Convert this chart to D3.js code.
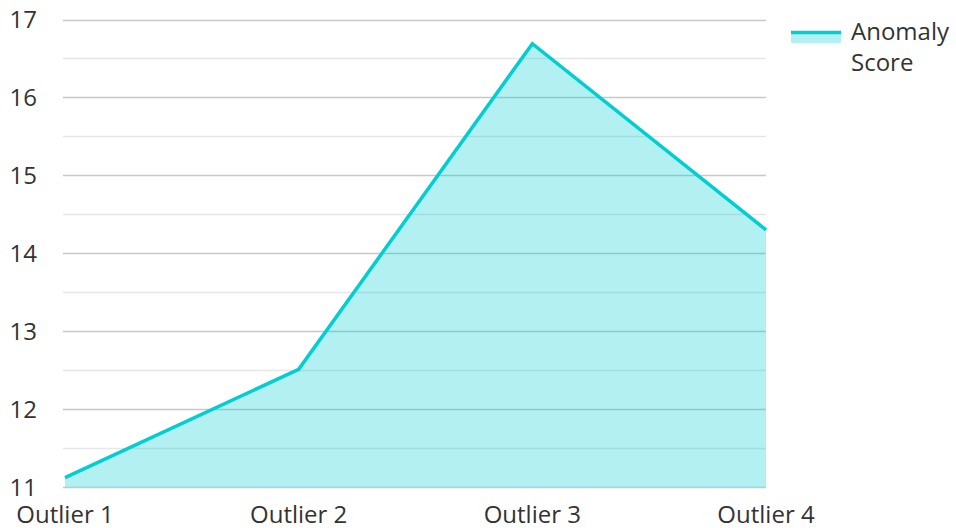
<!DOCTYPE html>
<html><head><meta charset="utf-8">
<script src="https://cdn.jsdelivr.net/npm/d3@7/dist/d3.min.js"></script>
<style>body{margin:0;background:#fff}svg{display:block;font-family:"Open Sans",sans-serif}</style>
</head><body><svg id="c" width="956" height="528"></svg>
<script>
const categories = ["Outlier 1","Outlier 2","Outlier 3","Outlier 4"];
const values = [11.12, 12.51, 16.69, 14.30];
const yTicks = [11,12,13,14,15,16,17];
const seriesName = ["Anomaly","Score"];

const svg = d3.select("#c");
const x = d3.scalePoint().domain(categories).range([65, 766]);
const y = d3.scaleLinear().domain([11,17]).range([487, 19.5]);

const minor = d3.range(11.5, 17, 1);
svg.append("g").selectAll("line").data(minor).join("line")
  .attr("x1",63).attr("x2",766).attr("y1",d=>Math.round(y(d))+0.5).attr("y2",d=>Math.round(y(d))+0.5)
  .attr("stroke","#e6e6e6").attr("stroke-width",1.5);
svg.append("g").selectAll("line").data(yTicks).join("line")
  .attr("x1",63).attr("x2",766).attr("y1",d=>Math.round(y(d))+0.5).attr("y2",d=>Math.round(y(d))+0.5)
  .attr("stroke","#c8c8c8").attr("stroke-width",1.5);

const data = categories.map((c,i)=>({c, v: values[i]}));
svg.append("path").datum(data)
  .attr("d", d3.area().x(d=>x(d.c)).y0(y(11)).y1(d=>y(d.v)))
  .attr("fill","rgba(0,206,209,0.3)");
svg.append("path").datum(data)
  .attr("d", d3.line().x(d=>x(d.c)).y(d=>y(d.v)))
  .attr("fill","none").attr("stroke","#00CED1").attr("stroke-width",3.5).attr("stroke-linejoin","miter");

svg.append("g").selectAll("text").data(yTicks).join("text")
  .attr("x",37).attr("y",d=>y(d)+8.5).attr("text-anchor","end")
  .attr("font-size",24).attr("fill","#333").text(d=>d);

svg.append("g").selectAll("text").data(categories).join("text")
  .attr("x",d=>x(d)).attr("y",523).attr("text-anchor","middle")
  .attr("font-size",24).attr("fill","#333").text(d=>d);

const lg = svg.append("g");
lg.append("rect").attr("x",791).attr("y",31).attr("width",50).attr("height",12).attr("fill","rgba(0,206,209,0.3)");
lg.append("line").attr("x1",791).attr("x2",841).attr("y1",32.5).attr("y2",32.5).attr("stroke","#00CED1").attr("stroke-width",3.5);
lg.selectAll("text").data(seriesName).join("text")
  .attr("x",851).attr("y",(d,i)=>40+i*31).attr("font-size",24).attr("fill","#333").text(d=>d);
</script></body></html>
